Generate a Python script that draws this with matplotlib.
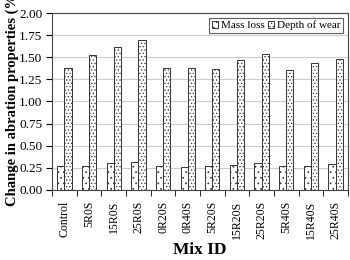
import numpy as np
import matplotlib.pyplot as plt

plt.rcParams['font.family'] = ['Liberation Serif', 'DejaVu Serif']
plt.rcParams['hatch.linewidth'] = 0.5

mix_ids = ['Control', '5R0S', '15R0S', '25R0S', '0R20S', '0R40S',
           '5R20S', '15R20S', '25R20S', '5R40S', '15R40S', '25R40S']
mass_loss = [0.27, 0.27, 0.30, 0.32, 0.27, 0.26, 0.27, 0.275, 0.30, 0.27, 0.27, 0.29]
depth_of_wear = [1.38, 1.53, 1.61, 1.70, 1.38, 1.375, 1.37, 1.47, 1.54, 1.36, 1.43, 1.48]

fig = plt.figure(figsize=(3.5, 2.6), dpi=100)
ax = fig.add_axes([0.149, 0.27, 0.845, 0.68])

x = np.arange(len(mix_ids))
w = 0.29
ax.bar(x - w / 2, mass_loss, w, color='white', edgecolor='#333333',
       linewidth=0.7, hatch='...', label='Mass loss', zorder=3)
ax.bar(x + w / 2, depth_of_wear, w, color='white', edgecolor='#333333',
       linewidth=0.7, hatch='.....', label='Depth of wear', zorder=3)

ax.set_xlim(-0.5, len(mix_ids) - 0.5)
ax.set_ylim(0, 2.0)
ax.set_yticks(np.arange(0, 2.01, 0.25))
ax.set_yticklabels([f'{v:.2f}' for v in np.arange(0, 2.01, 0.25)], fontsize=9.5)
ax.set_xticks(x)
ax.set_xticklabels(mix_ids, rotation=90, fontsize=8.5)
ax.set_xticks(np.arange(-0.5, len(mix_ids), 1), minor=True)
ax.tick_params(axis='x', which='major', length=0, pad=8)
ax.tick_params(axis='x', which='minor', length=4, direction='out')
ax.tick_params(axis='y', length=4, direction='out', pad=3)
ax.yaxis.grid(True, color='#cccccc', linewidth=0.8, zorder=0)

for s in ax.spines.values():
    s.set_color('#444444')
    s.set_linewidth(0.8)

ax.set_ylabel('Change in abration properties (%)', fontsize=10.5,
              fontweight='bold')
ax.yaxis.set_label_coords(-0.112, 0.52)
ax.set_xlabel('Mix ID', fontsize=12.5, fontweight='bold')
ax.xaxis.set_label_coords(0.5, -0.295)

leg = ax.legend(loc='upper right', ncol=2, fontsize=8, frameon=True,
                fancybox=False, edgecolor='#333333', handlelength=0.6,
                handleheight=0.6, handletextpad=0.2, columnspacing=0.3,
                borderpad=0.25, borderaxespad=0.45)
leg.get_frame().set_linewidth(0.8)

fig.savefig('out.png', dpi=100)
